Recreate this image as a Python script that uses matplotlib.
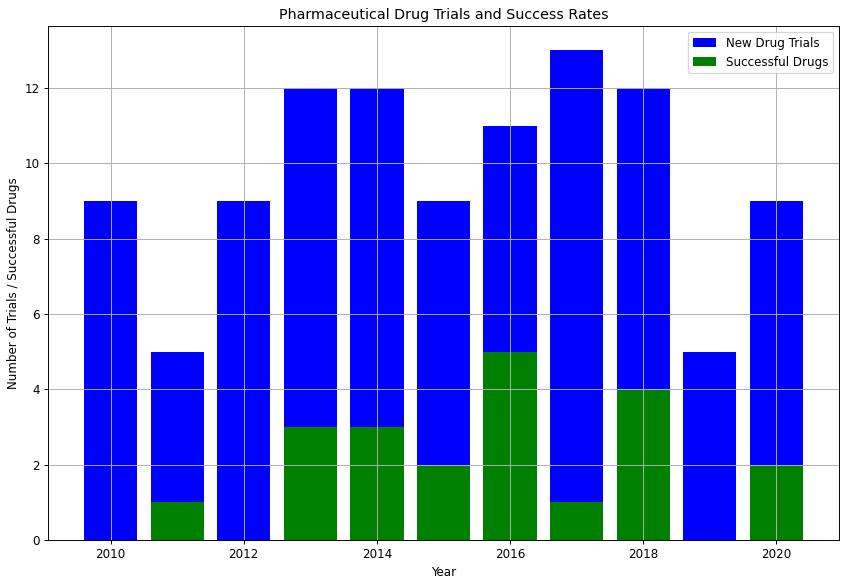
import matplotlib
matplotlib.use("Agg")
import matplotlib.pyplot as plt

years = [2010, 2011, 2012, 2013, 2014, 2015, 2016, 2017, 2018, 2019, 2020]
new_trials = [9, 5, 9, 12, 12, 9, 11, 13, 12, 5, 9]
successful = [0, 1, 0, 3, 3, 2, 5, 1, 4, 0, 2]

dpi = 85.5
fig, ax = plt.subplots(figsize=(848 / dpi, 585 / dpi), dpi=dpi)
ax.bar(years, new_trials, color='blue', label='New Drug Trials')
ax.bar(years, successful, color='green', label='Successful Drugs')
ax.set_title('Pharmaceutical Drug Trials and Success Rates')
ax.set_xlabel('Year')
ax.set_ylabel('Number of Trials / Successful Drugs')
ax.legend(loc='upper right')
ax.grid(True)
fig.subplots_adjust(left=48 / 848, right=839 / 848, top=1 - 26 / 585, bottom=1 - 540 / 585)
fig.savefig('out.png', dpi=dpi)
